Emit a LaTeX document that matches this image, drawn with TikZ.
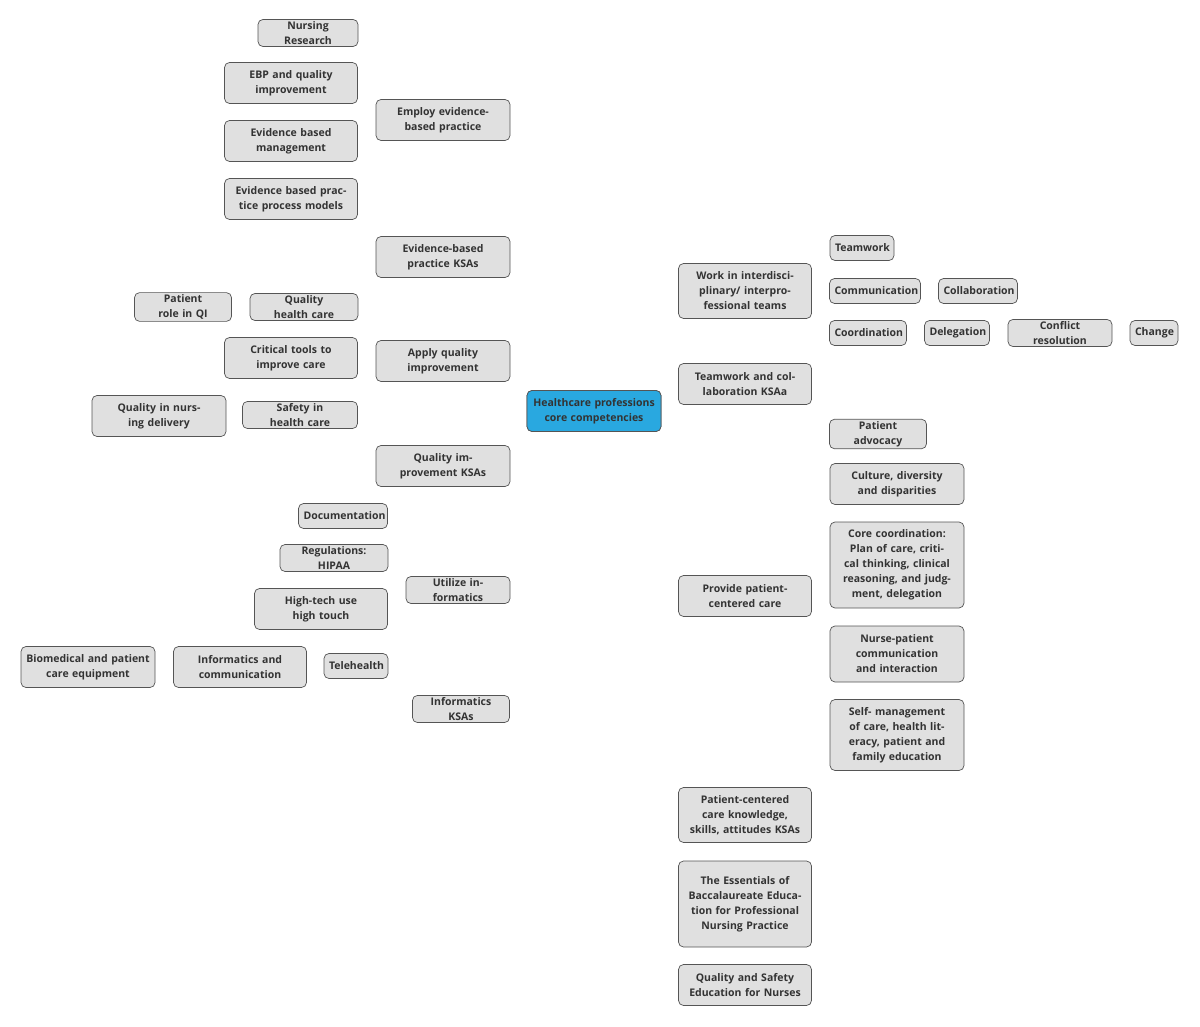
\documentclass[tikz,border=0pt]{standalone}
\usepackage{fontspec}
\setmainfont{Open Sans}
\pgfdeclarelayer{bg}\pgfsetlayers{bg,main}
\definecolor{bfill}{HTML}{E0E0E0}
\definecolor{bline}{HTML}{555555}
\definecolor{txt}{HTML}{333333}
\definecolor{cfill}{HTML}{29A8E0}
\tikzset{box/.style={draw=bline,fill=bfill,rounded corners=5pt,align=center,inner sep=2pt,
  font=\bfseries\fontsize{10.5pt}{15pt}\selectfont,text=txt,line width=0.7pt},
  lnk/.style={draw=bline,line width=0.7pt}}
\newcommand\bx[6]{\pgfmathsetmacro\tw{#4-10}\node[box,minimum width=#4pt,minimum height=#5pt,text width=\tw pt] (#1) at (#2,#3) {#6};}
\begin{document}
\begin{tikzpicture}[x=1pt,y=-1pt]
\useasboundingbox[fill=white] (0,0) rectangle (1200,1027);
\bx{c}{594}{411}{134}{41}{Healthcare professions core competencies}
\node[box,fill=cfill,minimum width=134pt,minimum height=41pt,text width=124pt] at (c) {Healthcare professions core competencies};
% left
\bx{ebp}{443}{120}{134}{41}{Employ evidence-based practice}
\bx{nr}{308}{33}{100}{25}{Nursing Research}
\bx{ebpq}{291}{83}{133}{41}{EBP and quality improvement}
\bx{ebm}{291}{141}{133}{41}{Evidence based management}
\bx{ebpm}{291}{199}{133}{41}{Evidence based practice process models}
\bx{ebk}{443}{257}{134}{41}{Evidence-based practice KSAs}
\bx{aqi}{443}{361}{134}{41}{Apply quality improvement}
\bx{qhc}{304}{307}{108}{25}{Quality health care}
\bx{pqi}{183}{307}{97}{25}{Patient role in QI}
\bx{ct}{291}{358}{133}{41}{Critical tools to improve care}
\bx{shc}{300}{415}{115}{25}{Safety in health care}
\bx{qnd}{159}{416}{134}{41}{Quality in nursing delivery}
\bx{qik}{443}{466}{134}{41}{Quality improvement KSAs}
\bx{ui}{458}{590}{104}{25}{Utilize informatics}
\bx{doc}{343}{516}{89}{25}{Documentation}
\bx{hip}{334}{558}{108}{25}{Regulations: HIPAA}
\bx{ht}{321}{609}{133}{41}{High-tech use high touch}
\bx{tel}{356}{666}{64}{25}{Telehealth}
\bx{ic}{240}{667}{133}{41}{Informatics and communication}
\bx{bio}{88}{667}{134}{41}{Biomedical and patient care equipment}
\bx{ik}{461}{709}{97}{25}{Informatics KSAs}
% right
\bx{wit}{745}{291}{133}{55}{Work in interdisciplinary/ interprofessional teams}
\bx{tw}{862}{248}{64}{25}{Teamwork}
\bx{com}{875}{291}{91}{25}{Communication}
\bx{col}{978}{291}{79}{25}{Collaboration}
\bx{coo}{868}{333}{77}{25}{Coordination}
\bx{del}{957}{333}{65}{25}{Delegation}
\bx{cr}{1060}{333}{104}{25}{Conflict resolution}
\bx{chg}{1154}{333}{48}{25}{Change}
\bx{tck}{745}{384}{133}{41}{Teamwork and collaboration KSAa}
\bx{ppc}{745}{596}{133}{41}{Provide patient-centered care}
\bx{pa}{878}{434}{97}{25}{Patient advocacy}
\bx{cdd}{897}{484}{134}{41}{Culture, diversity and disparities}
\bx{cc}{897}{565}{134}{86}{Core coordination: Plan of care, critical thinking, clinical reasoning, and judgment, delegation}
\bx{npc}{897}{654}{134}{56}{Nurse-patient communication and interaction}
\bx{sm}{897}{735}{134}{71}{Self- management of care, health literacy, patient and family education}
\bx{pck}{745}{815}{133}{55}{Patient-centered care knowledge, skills, attitudes KSAs}
\bx{ess}{745}{904}{133}{86}{The Essentials of Baccalaureate Education for Professional Nursing Practice}
\bx{qse}{745}{985}{133}{41}{Quality and Safety Education for Nurses}
\begin{pgfonlayer}{bg}
\foreach \t in {ebp,ebk,aqi,qik}{\draw[lnk] (c.center) to[out=90,in=0] (\t.east);}
\foreach \t in {ui,ik}{\draw[lnk] (c.center) to[out=-90,in=0] (\t.east);}
\draw[lnk] (c.center) to[out=90,in=180] (wit.west);
\draw[lnk] (c.center) to[out=90,in=180] (tck.west);
\foreach \t in {ppc,pck,ess,qse}{\draw[lnk] (c.center) to[out=-90,in=180] (\t.west);}
\foreach \t in {nr,ebpq}{\draw[lnk] (ebp.center) to[out=90,in=0] (\t.east);}
\foreach \t in {ebm,ebpm}{\draw[lnk] (ebp.center) to[out=-90,in=0] (\t.east);}
\draw[lnk] (aqi.center) to[out=90,in=0] (qhc.east);
\draw[lnk] (aqi.west) -- (ct.east);
\draw[lnk] (aqi.center) to[out=-90,in=0] (shc.east);
\draw[lnk] (qhc.west) -- (pqi.east);
\draw[lnk] (shc.west) -- (qnd.east);
\foreach \t in {doc,hip}{\draw[lnk] (ui.center) to[out=90,in=0] (\t.east);}
\foreach \t in {ht,tel}{\draw[lnk] (ui.center) to[out=-90,in=0] (\t.east);}
\draw[lnk] (tel.west) -- (ic.east);
\draw[lnk] (ic.west) -- (bio.east);
\draw[lnk] (wit.center) to[out=90,in=180] (tw.west);
\draw[lnk] (wit.east) -- (com.west);
\draw[lnk] (wit.center) to[out=-90,in=180] (coo.west);
\draw[lnk] (com.east) -- (col.west);
\draw[lnk] (coo.east) -- (del.west);
\draw[lnk] (del.east) -- (cr.west);
\draw[lnk] (cr.east) -- (chg.west);
\foreach \t in {pa,cdd,cc}{\draw[lnk] (ppc.center) to[out=90,in=180] (\t.west);}
\foreach \t in {npc,sm}{\draw[lnk] (ppc.center) to[out=-90,in=180] (\t.west);}
\end{pgfonlayer}
\end{tikzpicture}
\end{document}
